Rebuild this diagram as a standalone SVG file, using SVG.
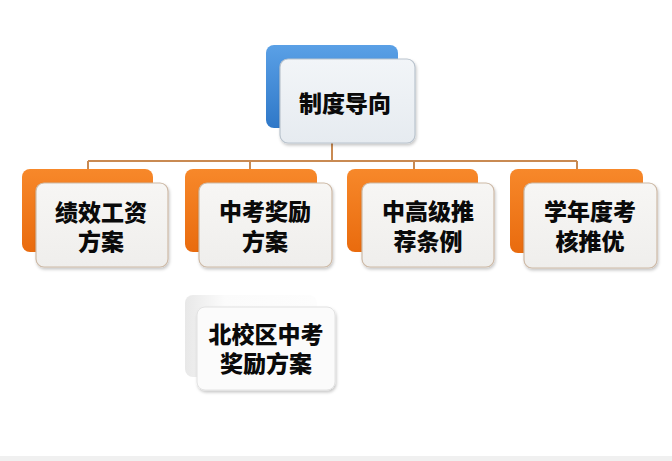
<svg xmlns="http://www.w3.org/2000/svg" width="672" height="461" viewBox="0 0 672 461">
<defs>
<linearGradient id="gOrange" x1="0" y1="0" x2="0" y2="1">
<stop offset="0" stop-color="#f7882a"/>
<stop offset="1" stop-color="#e96b0e"/>
</linearGradient>
<linearGradient id="gBlue" x1="0" y1="0" x2="0" y2="1">
<stop offset="0" stop-color="#5aa0e6"/>
<stop offset="1" stop-color="#2f78c8"/>
</linearGradient>
<linearGradient id="gFront" x1="0" y1="0" x2="0" y2="1">
<stop offset="0" stop-color="#f7f6f4"/>
<stop offset="1" stop-color="#efeeec"/>
</linearGradient>
<linearGradient id="gTop" x1="0" y1="0" x2="0" y2="1">
<stop offset="0" stop-color="#f2f5f8"/>
<stop offset="1" stop-color="#e6ebf0"/>
</linearGradient>
<linearGradient id="gGrey" x1="0" y1="0" x2="1" y2="0">
<stop offset="0" stop-color="#e8e8e8"/>
<stop offset="0.3" stop-color="#fbfbfb"/>
<stop offset="1" stop-color="#fdfdfd"/>
</linearGradient>
<filter id="sh" x="-10%" y="-10%" width="125%" height="130%">
<feDropShadow dx="1" dy="2" stdDeviation="1.5" flood-color="#000" flood-opacity="0.22"/>
</filter>
</defs>
<style>
.back{fill:url(#gOrange)}
.front{fill:url(#gFront);stroke:#cdb9a6;stroke-width:1.2;filter:url(#sh)}
.t{font-family:"Noto Sans CJK SC","Noto Sans",sans-serif;font-weight:900;font-size:23px;fill:#0a0a0a;text-anchor:middle;dominant-baseline:central}
.c{fill:none;stroke:#c98a52;stroke-width:2}
</style>
<rect x="0" y="0" width="672" height="461" fill="#ffffff"/>
<rect x="0" y="456" width="672" height="5" fill="#f0f0f0"/>
<g id="connectors">
<path class="c" d="M332 143 V161 M88 161 H577 M88 161 V170 M250 161 V170 M414 161 V170 M577 161 V170"/>
</g>
<g id="n0">
<rect x="266" y="45" width="132" height="83" rx="8" fill="url(#gBlue)"/>
<rect x="280" y="59" width="135" height="84" rx="8" fill="url(#gTop)" stroke="#b9c3cd" stroke-width="1.2" filter="url(#sh)"/>
<text class="t" x="345" y="102" font-size="24">制度导向</text>
</g>
<g id="n1">
<rect class="back" x="22" y="169" width="131" height="83" rx="8"/>
<rect class="front" x="36" y="183" width="132" height="84" rx="8"/>
<text class="t" x="101" y="211">绩效工资</text>
<text class="t" x="101" y="240">方案</text>
</g>
<g id="n2">
<rect class="back" x="185" y="169" width="132" height="83" rx="8"/>
<rect class="front" x="199" y="183" width="133" height="84" rx="8"/>
<text class="t" x="265" y="210">中考奖励</text>
<text class="t" x="265" y="240">方案</text>
</g>
<g id="n3">
<rect class="back" x="347" y="169" width="131" height="83" rx="8"/>
<rect class="front" x="362" y="183" width="132" height="84" rx="8"/>
<text class="t" x="428" y="210">中高级推</text>
<text class="t" x="428" y="240">荐条例</text>
</g>
<g id="n4">
<rect class="back" x="510" y="169" width="133" height="84" rx="8"/>
<rect class="front" x="524" y="183" width="133" height="85" rx="8"/>
<text class="t" x="590" y="210">学年度考</text>
<text class="t" x="590" y="240">核推优</text>
</g>
<g id="n5">
<rect x="185" y="295" width="132" height="82" rx="8" fill="url(#gGrey)"/>
<rect x="197" y="307" width="138" height="83" rx="8" fill="#fbfbfb" stroke="#e2e2e2" stroke-width="1" filter="url(#sh)"/>
<text class="t" x="266" y="333">北校区中考</text>
<text class="t" x="266" y="362">奖励方案</text>
</g>
</svg>
